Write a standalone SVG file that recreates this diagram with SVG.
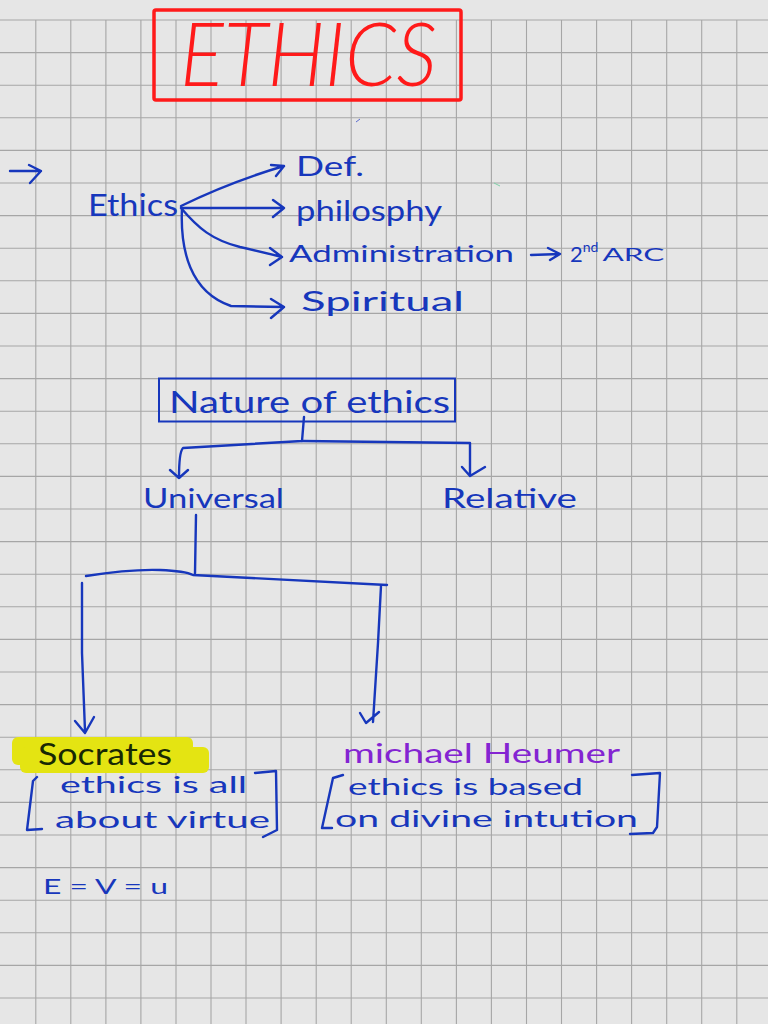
<svg xmlns="http://www.w3.org/2000/svg" width="768" height="1024" viewBox="0 0 768 1024">
<style>
.bg{fill:#e6e6e6}
.grid{stroke:#a6a6a6;stroke-width:1.1;fill:none}
.ink{fill:#1737bc;font-family:"Lato","Liberation Sans",sans-serif;font-weight:400}
.pen{fill:none;stroke:#1737bc;stroke-width:2.4;stroke-linecap:round;stroke-linejoin:round}
.title{fill:#ff1a1a;font-family:"Lato","Liberation Sans",sans-serif;font-weight:300;font-style:italic}
.soc{fill:#182804;font-family:"Lato","Liberation Sans",sans-serif;font-weight:400}
.purple{fill:#8424d2;font-family:"Lato","Liberation Sans",sans-serif;font-weight:400}
.hl{fill:#e4e412}
</style>
<rect class="bg" x="0" y="0" width="768" height="1024"/>
<g id="grid">
<path class="grid" d="M35.8,20V1024M70.8,20V1024M105.9,20V1024M140.9,20V1024M176,20V1024M211,20V1024M246,20V1024M281.1,20V1024M316.2,20V1024M351.2,20V1024M386.3,20V1024M421.3,20V1024M456.4,20V1024M491.4,20V1024M526.5,20V1024M561.5,20V1024M596.6,20V1024M631.6,20V1024M666.7,20V1024M701.7,20V1024M736.8,20V1024"/>
<path class="grid" d="M0,20H768M0,52.6H768M0,85.2H768M0,117.8H768M0,150.4H768M0,183H768M0,215.6H768M0,248.2H768M0,280.8H768M0,313.4H768M0,346H768M0,378.6H768M0,411.2H768M0,443.8H768M0,476.4H768M0,509H768M0,541.6H768M0,574.2H768M0,606.8H768M0,639.4H768M0,672H768M0,704.6H768M0,737.2H768M0,769.8H768M0,802.4H768M0,835H768M0,867.6H768M0,900.2H768M0,932.8H768M0,965.4H768M0,998H768"/>
</g>
<g id="title">
<rect x="154" y="10" width="307" height="90" fill="none" stroke="#ff1a1a" stroke-width="3.5" rx="2"/>
<text class="title" x="180" y="86" font-size="88" textLength="257" lengthAdjust="spacingAndGlyphs">ETHICS</text>
</g>
<g id="marks">
<path d="M356,122 L360,119" stroke="#5a6ad0" stroke-width="1" fill="none"/>
<path d="M494,183 L500,186" stroke="#7ed0a8" stroke-width="1" fill="none"/>
</g>
<g id="connectors">
<path class="pen" d="M10,171 L41,171 M29,165 L41,171 L30,183"/>
<path class="pen" d="M181,206 Q230,182 284,166 M271,165 L284,166 L276,176"/>
<path class="pen" d="M182,208 L283,208 M273,200 L284,208 L273,217"/>
<path class="pen" d="M181,208 C198,228 212,240 240,247 C258,251 270,254 282,257 M270,248 L282,257 L270,265"/>
<path class="pen" d="M182,208 C180,250 190,292 231,306 L284,307 M271,299 L284,307 L271,318"/>
<path class="pen" d="M531,255 L560,254 M548,248 L560,254 L550,260"/>
<path class="pen" d="M304,417 L302,441 L183,448 Q179,452 179,478 M170,470 L179,478 L188,470"/>
<path class="pen" d="M302,441 L470,443 L470,476 M462,467 L470,476 L485,467"/>
<path class="pen" d="M196,515 L195,573"/>
<path class="pen" d="M86,576 Q130,569 160,570 Q185,571 193,575 L387,585"/>
<path class="pen" d="M82,583 L82,653 L85,731 M75,721 L85,733 L94,717"/>
<path class="pen" d="M381,586 L378,643 L373,722 M360,713 L366,723 L379,712"/>
</g>
<g id="ethics"><text class="ink" x="88" y="216" font-size="30" textLength="90" lengthAdjust="spacingAndGlyphs">Ethics</text></g>
<g id="def"><text class="ink" x="296" y="176" font-size="27" textLength="68" lengthAdjust="spacingAndGlyphs">Def.</text></g>
<g id="philosphy"><text class="ink" x="296" y="221" font-size="29" textLength="146" lengthAdjust="spacingAndGlyphs">philosphy</text></g>
<g id="administration"><text class="ink" x="289" y="262" font-size="23" textLength="225" lengthAdjust="spacingAndGlyphs">Administration</text></g>
<g id="arc"><text class="ink" x="570" y="262" font-size="22">2<tspan dy="-10" font-size="14">nd</tspan><tspan dx="4" dy="9" font-size="18" textLength="62" lengthAdjust="spacingAndGlyphs">ARC</tspan></text></g>
<g id="spiritual"><text class="ink" x="301" y="311" font-size="27" textLength="163" lengthAdjust="spacingAndGlyphs">Spiritual</text></g>
<g id="nature">
<rect x="159" y="378.5" width="296" height="43" fill="none" stroke="#1737bc" stroke-width="2"/>
<text class="ink" x="169" y="413" font-size="30" textLength="281" lengthAdjust="spacingAndGlyphs">Nature of ethics</text>
</g>
<g id="universal"><text class="ink" x="143" y="508" font-size="26" textLength="141" lengthAdjust="spacingAndGlyphs">Universal</text></g>
<g id="relative"><text class="ink" x="442" y="508" font-size="26" textLength="135" lengthAdjust="spacingAndGlyphs">Relative</text></g>
<g id="socrates">
<rect class="hl" x="12" y="737" width="181" height="28" rx="6"/>
<rect class="hl" x="20" y="747" width="189" height="26" rx="6"/>
<text class="soc" x="38" y="765" font-size="31" textLength="134" lengthAdjust="spacingAndGlyphs">Socrates</text>
<path class="pen" d="M37,777 L33,781 L27,830 L42,829 M255,773 L276,771 L277,830 L263,837"/>
<text class="ink" x="60" y="793" font-size="24" textLength="187" lengthAdjust="spacingAndGlyphs">ethics is all</text>
<text class="ink" x="55" y="828" font-size="24" textLength="215" lengthAdjust="spacingAndGlyphs">about virtue</text>
</g>
<g id="equation"><text class="ink" x="43" y="894" font-size="22" textLength="125" lengthAdjust="spacingAndGlyphs">E = V = u</text></g>
<g id="heumer">
<text class="purple" x="343" y="763" font-size="27" textLength="277" lengthAdjust="spacingAndGlyphs">michael Heumer</text>
<path class="pen" d="M343,775 L333,778 L322,828 L332,828 M632,775 L660,773 L657,827 L653,833 L630,834"/>
<text class="ink" x="348" y="795" font-size="24" textLength="235" lengthAdjust="spacingAndGlyphs">ethics is based</text>
<text class="ink" x="335" y="827" font-size="24" textLength="303" lengthAdjust="spacingAndGlyphs">on divine intution</text>
</g>
</svg>
